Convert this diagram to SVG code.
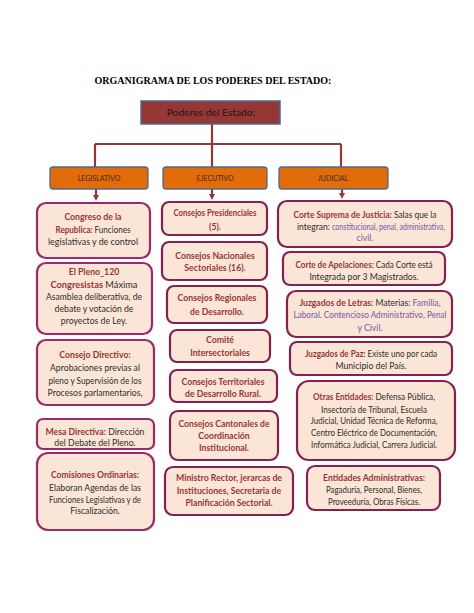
<svg xmlns="http://www.w3.org/2000/svg" width="474" height="613" viewBox="0 0 474 613">
<defs>
<marker id="arr" markerWidth="6" markerHeight="6" refX="3" refY="3" orient="auto" markerUnits="userSpaceOnUse">
<path d="M0,0 L6,3 L0,6 Z" fill="#953735"/>
</marker>
<style>
.t{font-family:Lato,"Open Sans","Liberation Sans",sans-serif;font-size:8.7px;fill:#2e2e2e;text-anchor:middle}
.s{text-anchor:start}
.h{fill:#953735;font-weight:bold}
.p{fill:#7a55a5}
.b{fill:#fbe5d6;stroke:#86214f;stroke-width:2.2}
.bl{fill:#fbe5d6;stroke:#9a2a6a;stroke-width:2.2}
.o{fill:#e36c0a;stroke:#50698f;stroke-width:1.3}
.ol{font-family:Lato,"Open Sans","Liberation Sans",sans-serif;font-size:7px;fill:#3b2a20;text-anchor:middle}
.c{stroke:#953735;stroke-width:2.2;fill:none}
</style>
</defs>
<rect width="474" height="613" fill="#ffffff"/>
<text x="213" y="84" font-family="'Liberation Serif',serif" font-weight="bold" font-size="10" text-anchor="middle" fill="#000">ORGANIGRAMA DE LOS PODERES DEL ESTADO:</text>

<g id="connectors">
<path class="c" d="M212,124 V144 M95,144 H341 M95,144 V167 M212,144 V167 M341,144 V167"/>
<path class="c" d="M96,189 V198" marker-end="url(#arr)"/>
<path class="c" d="M212,189 V197" marker-end="url(#arr)"/>
<path class="c" d="M342,189 V196" marker-end="url(#arr)"/>
</g>

<g id="poderes">
<rect x="141" y="101" width="139" height="23" fill="#953735" stroke="#50698f" stroke-width="1.5"/>
<text x="211" y="116" font-family="Lato,'Open Sans','Liberation Sans',sans-serif" font-size="10.3" text-anchor="middle" fill="#2a1414">Poderes del Estado:</text>
</g>

<g id="legislativo">
<rect class="o" x="50" y="167" width="98" height="22" rx="3"/>
<text class="ol" x="99" y="181">LEGISLATIVO</text>
</g>
<g id="ejecutivo">
<rect class="o" x="163" y="167" width="104" height="22" rx="3"/>
<text class="ol" x="215" y="181">EJECUTIVO</text>
</g>
<g id="judicial">
<rect class="o" x="279" y="167" width="109" height="22" rx="3"/>
<text class="ol" x="333" y="181">JUDICIAL</text>
</g>

<g id="congreso">
<rect class="bl" x="37" y="203" width="113" height="55" rx="9"/>
<text class="t" x="93" y="220"><tspan class="h">Congreso de la</tspan></text>
<text class="t" x="93" y="233" textLength="75" lengthAdjust="spacingAndGlyphs"><tspan class="h">Republica:</tspan> Funciones</text>
<text class="t" x="93" y="245" textLength="90" lengthAdjust="spacingAndGlyphs">legislativas y de control</text>
</g>
<g id="pleno">
<rect class="bl" x="37" y="263" width="115" height="71" rx="9"/>
<text class="t" x="94" y="275"><tspan class="h">El Pleno_120</tspan></text>
<text class="t" x="94" y="288" textLength="87" lengthAdjust="spacingAndGlyphs"><tspan class="h">Congresistas</tspan> Máxima</text>
<text class="t" x="94" y="300" textLength="96" lengthAdjust="spacingAndGlyphs">Asamblea deliberativa, de</text>
<text class="t" x="94" y="312">debate y votación de</text>
<text class="t" x="94" y="324">proyectos de Ley.</text>
</g>
<g id="consejo-directivo">
<rect class="bl" x="37" y="340" width="117" height="65" rx="9"/>
<text class="t" x="95" y="358"><tspan class="h">Consejo Directivo:</tspan></text>
<text class="t" x="95" y="371">Aprobaciones previas al</text>
<text class="t" x="95" y="384" textLength="93" lengthAdjust="spacingAndGlyphs">pleno y Supervisión de los</text>
<text class="t" x="95" y="396">Procesos parlamentarios,</text>
</g>
<g id="mesa">
<rect class="bl" x="37" y="419" width="117" height="30" rx="6"/>
<text class="t" x="95" y="435"><tspan class="h">Mesa Directiva:</tspan> Dirección</text>
<text class="t" x="95" y="446">del Debate del Pleno.</text>
</g>
<g id="comisiones">
<rect class="bl" x="37" y="453" width="117" height="77" rx="11"/>
<text class="t" x="95" y="478" textLength="88" lengthAdjust="spacingAndGlyphs"><tspan class="h">Comisiones Ordinarias:</tspan></text>
<text class="t" x="95" y="491">Elaboran Agendas de las</text>
<text class="t" x="95" y="503" textLength="92" lengthAdjust="spacingAndGlyphs">Funciones Legislativas y de</text>
<text class="t" x="95" y="514">Fiscalización.</text>
</g>

<g id="presidenciales">
<rect class="b" x="162" y="202" width="105" height="33" rx="7"/>
<text class="t h" x="215" y="216" textLength="83" lengthAdjust="spacingAndGlyphs">Consejos Presidenciales</text>
<text class="t h" x="215" y="230">(5).</text>
</g>
<g id="nacionales">
<rect class="b" x="162" y="242" width="105" height="38" rx="7"/>
<text class="t h" x="215" y="259">Consejos Nacionales</text>
<text class="t h" x="215" y="271">Sectoriales (16).</text>
</g>
<g id="regionales">
<rect class="b" x="167" y="286" width="100" height="37" rx="7"/>
<text class="t h" x="217" y="301">Consejos Regionales</text>
<text class="t h" x="217" y="315">de Desarrollo.</text>
</g>
<g id="comite">
<rect class="b" x="170" y="330" width="100" height="32" rx="7"/>
<text class="t h" x="220" y="343">Comité</text>
<text class="t h" x="220" y="356">Intersectoriales</text>
</g>
<g id="territoriales">
<rect class="b" x="170" y="370" width="107" height="32" rx="7"/>
<text class="t h" x="223" y="385">Consejos Territoriales</text>
<text class="t h" x="223" y="397">de Desarrollo Rural.</text>
</g>
<g id="cantonales">
<rect class="b" x="170" y="411" width="108" height="49" rx="8"/>
<text class="t h" x="224" y="427" textLength="91" lengthAdjust="spacingAndGlyphs">Consejos Cantonales de</text>
<text class="t h" x="224" y="439">Coordinación</text>
<text class="t h" x="224" y="451">Institucional.</text>
</g>
<g id="ministro">
<rect class="b" x="165" y="467" width="128" height="48" rx="8"/>
<text class="t h" x="229" y="481" textLength="106" lengthAdjust="spacingAndGlyphs">Ministro Rector, jerarcas de</text>
<text class="t h" x="229" y="494">Instituciones, Secretaria de</text>
<text class="t h" x="229" y="506">Planificación Sectorial.</text>
</g>

<g id="suprema">
<rect class="b" x="278" y="201" width="174" height="46" rx="9"/>
<text class="t" x="365" y="218" textLength="143" lengthAdjust="spacingAndGlyphs"><tspan class="h">Corte Suprema de Justicia:</tspan> Salas que la</text>
<text class="t s" x="297" y="230" textLength="33" lengthAdjust="spacingAndGlyphs">integran:</text>
<text class="t s p" x="332" y="230" textLength="113" lengthAdjust="spacingAndGlyphs">constitucional, penal, administrativa,</text>
<text class="t p" x="365" y="241">civil.</text>
</g>
<g id="apelaciones">
<rect class="b" x="283" y="252" width="162" height="33" rx="7"/>
<text class="t" x="364" y="268" textLength="137" lengthAdjust="spacingAndGlyphs"><tspan class="h">Corte de Apelaciones:</tspan> Cada Corte está</text>
<text class="t" x="364" y="280">Integrada por 3 Magistrados.</text>
</g>
<g id="letras">
<rect class="b" x="287" y="291" width="165" height="46" rx="9"/>
<text class="t" x="370" y="306" textLength="141" lengthAdjust="spacingAndGlyphs"><tspan class="h">Juzgados de Letras:</tspan> Materias: <tspan class="p">Familia,</tspan></text>
<text class="t p" x="370" y="318" textLength="153" lengthAdjust="spacingAndGlyphs">Laboral. Contencioso Administrativo, Penal</text>
<text class="t p" x="370" y="331">y Civil.</text>
</g>
<g id="paz">
<rect class="b" x="290" y="342" width="162" height="33" rx="7"/>
<text class="t" x="371" y="357" textLength="132" lengthAdjust="spacingAndGlyphs"><tspan class="h">Juzgados de Paz:</tspan> Existe uno por cada</text>
<text class="t" x="371" y="369">Municipio del País.</text>
</g>
<g id="otras">
<rect class="b" x="297" y="381" width="158" height="79" rx="12"/>
<text class="t" x="374" y="400" textLength="122" lengthAdjust="spacingAndGlyphs"><tspan class="h">Otras Entidades:</tspan> Defensa Pública,</text>
<text class="t" x="374" y="413" textLength="106" lengthAdjust="spacingAndGlyphs">Insectoría de Tribunal, Escuela</text>
<text class="t" x="374" y="424" textLength="127" lengthAdjust="spacingAndGlyphs">Judicial, Unidad Técnica de Reforma,</text>
<text class="t" x="374" y="436" textLength="126" lengthAdjust="spacingAndGlyphs">Centro Eléctrico de  Documentación,</text>
<text class="t" x="374" y="448" textLength="126" lengthAdjust="spacingAndGlyphs">Informática Judicial, Carrera Judicial.</text>
</g>
<g id="administrativas">
<rect class="b" x="307" y="466" width="133" height="44" rx="8"/>
<text class="t" x="374" y="481" textLength="102" lengthAdjust="spacingAndGlyphs"><tspan class="h">Entidades Administrativas:</tspan></text>
<text class="t" x="374" y="493" textLength="96" lengthAdjust="spacingAndGlyphs">Pagaduría, Personal, Bienes,</text>
<text class="t" x="374" y="505" textLength="92" lengthAdjust="spacingAndGlyphs">Proveeduría, Obras Físicas.</text>
</g>
</svg>
